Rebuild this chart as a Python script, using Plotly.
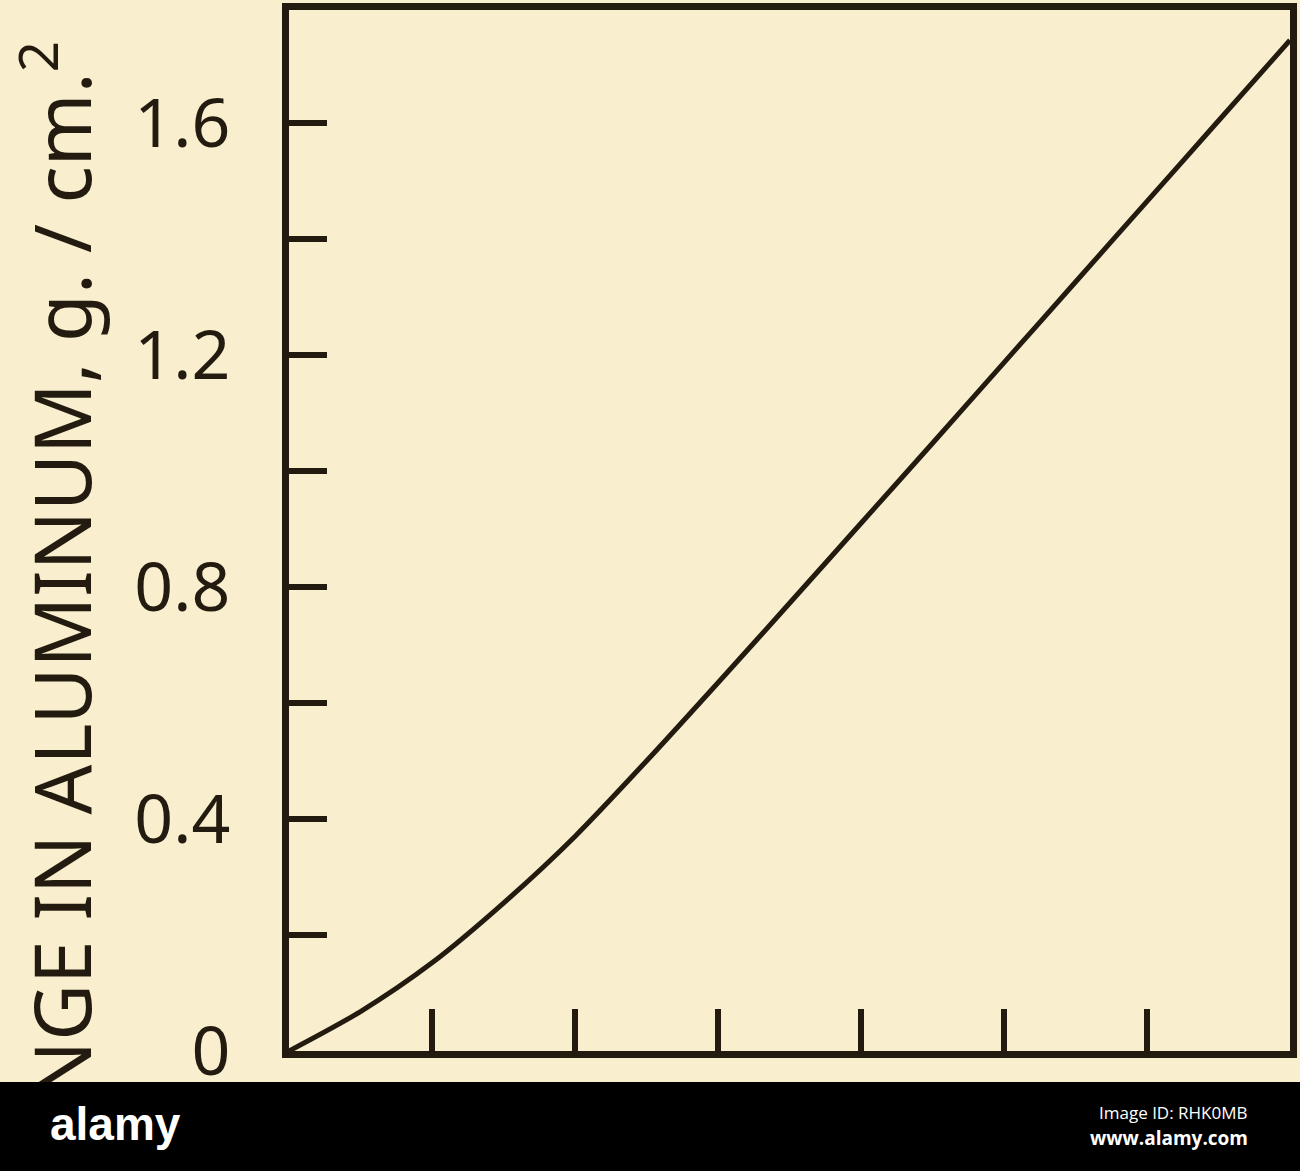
import plotly.graph_objects as go

# Data
energy = [0, 0.25, 0.5, 0.75, 1.0, 1.25, 1.5, 1.75, 2.0, 2.25, 2.5, 2.75, 3.0, 3.25, 3.5]
range_al = [0, 0.068, 0.152, 0.255, 0.37, 0.5, 0.635, 0.772, 0.91, 1.048, 1.187, 1.326, 1.465, 1.604, 1.743]

y_tickvals = [0, 0.2, 0.4, 0.6, 0.8, 1.0, 1.2, 1.4, 1.6]
y_ticktext = ["0", " ", "0.4", " ", "0.8", " ", "1.2", " ", "1.6"]
x_tickvals = [0.5, 1.0, 1.5, 2.0, 2.5, 3.0]
x_ticktext = [" ", " ", " ", " ", " ", "3.0"]

W, H = 1300, 1171
L, R, T, B = 289, 10, 10, 120
PW, PH = W - L - R, H - T - B

def px_x(p):
    return (p - L) / PW

def px_y(p):
    return (H - B - p) / PH

ink = "#241b10"
bg = "#f9efcf"

fig = go.Figure()
fig.add_trace(go.Scatter(x=energy, y=range_al, mode="lines",
                         line=dict(color=ink, width=5, shape="spline", smoothing=0.8),
                         showlegend=False, hoverinfo="skip"))

fig.update_layout(
    width=W, height=H, autosize=False,
    margin=dict(l=L, r=R, t=T, b=B, pad=0, autoexpand=False),
    paper_bgcolor=bg, plot_bgcolor=bg,
    font=dict(family="Noto Sans", color=ink),
    xaxis=dict(range=[0, 3.5], showgrid=False, zeroline=False, automargin=False,
               showline=True, linecolor=ink, linewidth=7, mirror=True,
               ticks="inside", ticklen=42, tickwidth=6, tickcolor=ink,
               tickvals=x_tickvals, ticktext=x_ticktext,
               tickfont=dict(size=66, color=ink), ticklabelstandoff=14),
    yaxis=dict(range=[0, 1.795], showgrid=False, zeroline=False, automargin=False,
               showline=True, linecolor=ink, linewidth=7, mirror=True,
               ticks="inside", ticklen=38, tickwidth=6, tickcolor=ink,
               tickvals=y_tickvals, ticktext=y_ticktext,
               tickfont=dict(size=68, color=ink), ticklabelstandoff=38),
)

# Y axis title (rotated, its start hidden behind the bottom band as in the scan)
fig.add_annotation(text="RANGE IN ALUMINUM, g. / cm.<sup>2</sup>",
                   xref="paper", yref="paper",
                   x=px_x(57), y=px_y(40), xanchor="center", yanchor="top",
                   textangle=-90, showarrow=False,
                   font=dict(size=78, color=ink, family="Noto Sans"))

# Black watermark band at bottom (drawn as a boxed annotation so it covers the title's start)
fig.add_annotation(text=" ", xref="paper", yref="paper",
                   x=px_x(-5), y=px_y(1082), xanchor="left", yanchor="top",
                   width=W + 10, height=100, bgcolor="#000000",
                   borderpad=0, borderwidth=0, showarrow=False,
                   font=dict(size=10, color="#000000"))
fig.add_annotation(text="<b>alamy</b>", xref="paper", yref="paper",
                   x=px_x(48), y=px_y(1124), xanchor="left", yanchor="middle",
                   showarrow=False,
                   font=dict(size=46, color="#ffffff",
                             family="Liberation Sans Narrow, Liberation Sans"))
fig.add_annotation(text="Image ID: RHK0MB", xref="paper", yref="paper",
                   x=px_x(1250), y=px_y(1112), xanchor="right", yanchor="middle",
                   showarrow=False,
                   font=dict(size=17, color="#ffffff", family="Open Sans"))
fig.add_annotation(text="<b>www.alamy.com</b>", xref="paper", yref="paper",
                   x=px_x(1250), y=px_y(1138), xanchor="right", yanchor="middle",
                   showarrow=False,
                   font=dict(size=19, color="#ffffff", family="Open Sans"))

fig.write_html("out.html", config={"displayModeBar": False})

# remove the default page margin and clip any overflow so the page is exactly the figure size
with open("out.html", "r", encoding="utf-8") as f:
    html = f.read()
html = html.replace(
    "<head>",
    "<head><style>html,body{margin:0;padding:0;overflow:hidden;width:1300px;height:1171px;}"
    ".plotly-graph-div{overflow:hidden;}</style>", 1)
with open("out.html", "w", encoding="utf-8") as f:
    f.write(html)
